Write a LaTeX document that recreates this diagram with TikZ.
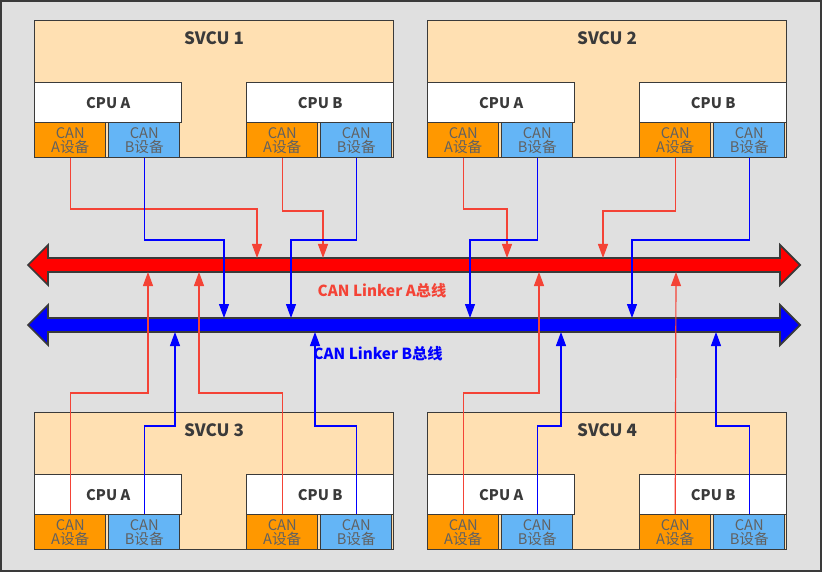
\documentclass[tikz,border=0pt]{standalone}
\usepackage{fontspec}
\setmainfont{Noto Sans CJK SC}
\usetikzlibrary{arrows.meta}
\definecolor{bgGray}{HTML}{E0E0E0}
\definecolor{unitFill}{HTML}{FFE0B2}
\definecolor{canA}{HTML}{FF9800}
\definecolor{canB}{HTML}{64B5F6}
\definecolor{edgeGray}{HTML}{3A3A3A}
\definecolor{wireRed}{HTML}{F44336}
\tikzset{
  unit/.style = {draw=edgeGray, line width=1.2pt, fill=unitFill, anchor=north west,
                 minimum width=10.77cm, minimum height=4.11cm, inner sep=0pt},
  cpu/.style = {draw=edgeGray, line width=1.2pt, fill=white, anchor=north west,
                minimum width=4.41cm, minimum height=1.2cm, inner sep=0pt,
                font=\fontsize{12.5}{15}\selectfont\bfseries, text=edgeGray},
  dev/.style = {draw=edgeGray, line width=1.2pt, anchor=north west, align=center,
                minimum width=2.13cm, minimum height=1.05cm, inner sep=0pt,
                font=\fontsize{12.5}{15}\selectfont, text=edgeGray!80},
  title/.style = {font=\fontsize{14.5}{17}\selectfont\bfseries, text=edgeGray},
  redw/.style = {draw=wireRed, line width=1pt, -{Triangle[length=0.42cm,width=0.3cm]}},
  bluew/.style = {draw=blue, line width=1pt, -{Triangle[length=0.42cm,width=0.3cm]}},
  bus/.style = {draw=edgeGray, line width=1.5pt},
}
\begin{document}
\begin{tikzpicture}[x=0.03cm,y=-0.03cm]
    \useasboundingbox (0,0) rectangle (822,572);
    \fill [bgGray] (0,0) rectangle (822,572);
    \draw [edgeGray, line width=1pt] (1,1) rectangle (821,571);

    % buses
    \draw [bus, fill=red] (28,265) -- (48,245) -- (48,258) -- (780,258) -- (780,245) -- (800,265)
        -- (780,285) -- (780,272) -- (48,272) -- (48,285) -- cycle;
    \draw [bus, fill=blue] (28,325) -- (48,305) -- (48,318) -- (780,318) -- (780,305) -- (800,325)
        -- (780,345) -- (780,332) -- (48,332) -- (48,345) -- cycle;
    \node [font=\fontsize{13}{15}\selectfont\bfseries, text=wireRed] (labA) at (382,291) {CAN Linker A总线};
    \node [font=\fontsize{13}{15}\selectfont\bfseries, text=blue] (labB) at (378,354) {CAN Linker B总线};

    % units
    \foreach \n/\x/\y/\t in {u1/34/20/1, u2/427/20/2, u3/34/412/3, u4/427/412/4} {
        \node [unit] (\n) at (\x,\y) {};
        \node [title] (\n t) at (\x+180,\y+18) {SVCU \t};
        \node [cpu] (\n ca) at (\x,\y+62) {CPU A};
        \node [cpu] (\n cb) at (\x+212,\y+62) {CPU B};
        \node [dev, fill=canA] (\n aa) at (\x,\y+102) {CAN\\[-3pt]A设备};
        \node [dev, fill=canB] (\n ab) at (\x+74,\y+102) {CAN\\[-3pt]B设备};
        \node [dev, fill=canA] (\n ba) at (\x+212,\y+102) {CAN\\[-3pt]A设备};
        \node [dev, fill=canB] (\n bb) at (\x+286,\y+102) {CAN\\[-3pt]B设备};
    }

    % bus taps
    \coordinate (r1) at (257,258);  \coordinate (r2) at (323,258);
    \coordinate (r3) at (507,258);  \coordinate (r4) at (603,258);
    \coordinate (b1) at (224,318);  \coordinate (b2) at (291,318);
    \coordinate (b3) at (470,318);  \coordinate (b4) at (632,318);
    \coordinate (r5) at (148,272);  \coordinate (r6) at (199,272);
    \coordinate (r7) at (539,272);  \coordinate (r8) at (676,272);
    \coordinate (b5) at (175,332);  \coordinate (b6) at (315,332);
    \coordinate (b7) at (561,332);  \coordinate (b8) at (716,332);

    % top wires
    \draw [redw] (u1aa.south) -- (u1aa.south |- 0,209) -| (r1);
    \draw [bluew] (u1ab.south) -- (u1ab.south |- 0,240) -| (b1);
    \draw [redw] (u1ba.south) -- (u1ba.south |- 0,211) -| (r2);
    \draw [bluew] (u1bb.south) -- (u1bb.south |- 0,240) -| (b2);
    \draw [redw] (u2aa.south) -- (u2aa.south |- 0,209) -| (r3);
    \draw [bluew] (u2ab.south) -- (u2ab.south |- 0,240) -| (b3);
    \draw [redw] (u2ba.south) -- (u2ba.south |- 0,211) -| (r4);
    \draw [bluew] (u2bb.south) -- (u2bb.south |- 0,240) -| (b4);

    % bottom wires
    \draw [redw] (u3aa.north) -- (u3aa.north |- 0,393) -| (r5);
    \draw [bluew] (u3ab.north) -- (u3ab.north |- 0,426) -| (b5);
    \draw [redw] (u3ba.north) -- (u3ba.north |- 0,393) -| (r6);
    \draw [bluew] (u3bb.north) -- (u3bb.north |- 0,426) -| (b6);
    \draw [redw] (u4aa.north) -- (u4aa.north |- 0,393) -| (r7);
    \draw [bluew] (u4ab.north) -- (u4ab.north |- 0,426) -| (b7);
    \draw [redw] (u4ba.north) -- (r8);
    \draw [bluew] (u4bb.north) -- (u4bb.north |- 0,426) -| (b8);
\end{tikzpicture}
\end{document}
